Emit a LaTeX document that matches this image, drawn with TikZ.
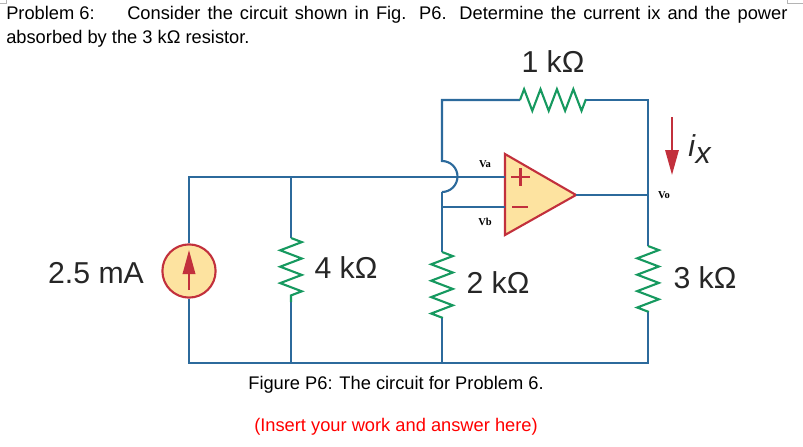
\documentclass[tikz,border=0pt]{standalone}
\usepackage{fontspec}
\setmainfont{Liberation Sans}
\usepackage{tikz}
\usetikzlibrary{decorations.pathmorphing,arrows.meta}
\definecolor{wireblue}{HTML}{2C6A9C}
\definecolor{resgreen}{HTML}{16995F}
\definecolor{partred}{HTML}{C2303C}
\definecolor{partfill}{HTML}{FDE3A0}
\definecolor{cornergray}{HTML}{B4B4B4}
\tikzset{
    wire/.style={wireblue, line width=1.5pt},
    res/.style={resgreen, line width=1.5pt, decorate, decoration={zigzag, segment length=.41cm, amplitude=.27cm}},
    part/.style={partred, line width=1.5pt},
    big/.style={inner sep=0, text=black!85, font=\fontsize{21.5}{22}\selectfont},
    body/.style={inner sep=0, font=\fontsize{13}{16.9}\selectfont},
    volt/.style={inner sep=0, font=\fontspec{Liberation Serif}\fontsize{7.5}{8}\selectfont\bfseries},
}
\begin{document}
\begin{tikzpicture}[x=.025cm, y=-.025cm]
    \useasboundingbox (0,0) rectangle (803,447);

    % Text above the circuit
    \node (problem) [body, text width=19.525cm, align=justify, anchor=north west] at (6,6)
        {\makebox[3.025cm][l]{Problem 6:}Consider the circuit shown in Fig. P6. Determine the current ix and the power\linebreak absorbed by the 3 kΩ resistor.};

    % Corners of the page cell
    \draw [cornergray, thin] (0,3) -- (6,3) -- (6,0);
    \draw [cornergray, thin] (787,0) -- (787,3) -- (803,3);

    % Corner points of the wires
    \coordinate (srctop) at (189,177);
    \coordinate (srcbot) at (189,363);
    \coordinate (ftop) at (291,177);
    \coordinate (fbot) at (291,363);
    \coordinate (ftophi) at (291,238);
    \coordinate (fbotlo) at (291,302);
    \coordinate (tl) at (442,100);
    \coordinate (tr) at (648,100);
    \coordinate (ohm1a) at (520,100);
    \coordinate (ohm1b) at (586,100);
    \coordinate (jumpa) at (442,161);
    \coordinate (jumpb) at (442,192);
    \coordinate (inb) at (442,207);
    \coordinate (ohm2a) at (442,252);
    \coordinate (ohm2b) at (442,318);
    \coordinate (twobot) at (442,363);
    \coordinate (ohm3a) at (648,246);
    \coordinate (ohm3b) at (648,312);
    \coordinate (outr) at (648,195);
    \coordinate (br) at (648,363);

    % Op amp
    \coordinate (opa) at (505,154);
    \coordinate (opb) at (505,235);
    \coordinate (opc) at (576,195);
    \coordinate (plus) at (505,177);
    \coordinate (minus) at (505,207);
    \draw [part, fill=partfill, line join=miter] (opa) -- (opc) -- (opb) -- cycle;
    \draw [part] (511,177) -- (530,177) (520.5,168) -- (520.5,186);
    \draw [part] (512,207) -- (528,207);

    % Wires
    \node (src) [circle, draw=partred, fill=partfill, line width=1.5pt, minimum size=1.33cm, inner sep=0] at (189,271) {};
    \draw [wire] (src) -- (srctop) -- (plus);
    \draw [wire] (src) -- (srcbot) -- (br) -- (ohm3b);
    \draw [wire] (ftop) -- (ftophi);
    \draw [wire] (fbotlo) -- (fbot);
    \draw [wire] (ohm1a) -- (tl) -- (jumpa) arc[start angle=-90, end angle=90, radius=15.5];
    \draw [wire] (ohm1b) -- (tr) -- (ohm3a);
    \draw [wire] (jumpb) -- (ohm2a);
    \draw [wire] (ohm2b) -- (twobot);
    \draw [wire] (inb) -- (minus);
    \draw [wire] (opc) -- (outr);

    % Resistors
    \draw [res] (ohm1a) -- (ohm1b);
    \draw [res] (ftophi) -- (fbotlo);
    \draw [res] (ohm2a) -- (ohm2b);
    \draw [res] (ohm3a) -- (ohm3b);

    % Arrows
    \coordinate (srcarrowa) at (189,290);
    \coordinate (srcarrowb) at (189,250);
    \draw [part, -{Triangle[length=.6cm, width=.31cm]}] (srcarrowa) -- (srcarrowb);
    \coordinate (ixa) at (672,117);
    \coordinate (ixb) at (672,175);
    \draw [part, -{Triangle[length=.62cm, width=.33cm]}] (ixa) -- (ixb);

    % Labels
    \node (l1k) [big] at (553,62) {1 kΩ};
    \node (l25) [big] at (96,273) {2.5 mA};
    \node (l4k) [big] at (346,268) {4 kΩ};
    \node (l2k) [big] at (498,283) {2 kΩ};
    \node (l3k) [big] at (705,278) {3 kΩ};
    \node (lix) [big] at (700,149) {\textit{i}\raisebox{-.25em}{\textit{x}}};
    \node (lva) [volt] at (485,164) {Va};
    \node (lvb) [volt] at (485,222) {Vb};
    \node (lvo) [volt] at (664,195) {Vo};
    \node (caption) [body] at (396,385) {Figure P6: The circuit for Problem 6.};
    \node (insert) [body, text=red] at (396,427) {(Insert your work and answer here)};
\end{tikzpicture}
\end{document}
